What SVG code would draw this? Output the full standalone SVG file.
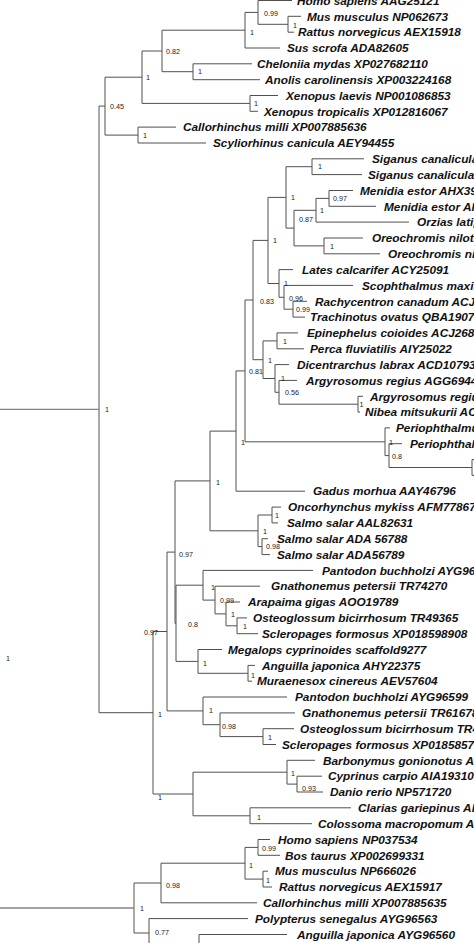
<svg xmlns="http://www.w3.org/2000/svg" width="474" height="943" viewBox="0 0 474 943">
<style>
.br{fill:none;stroke:#505050;stroke-width:1}
.th{fill:none;stroke:#858585;stroke-width:1.4}
.lf{font-family:"Liberation Sans",Arial,sans-serif;font-size:11.8px;font-weight:bold;font-style:italic;fill:#111}
.sp{font-family:"Liberation Sans",Arial,sans-serif;font-size:7.2px;fill:#222}
</style>
<rect width="474" height="943" fill="#fff"/>
<g id="connectors">
<path class="th" d="M0 409.4H99M0 908H134M99 106.1V712.7M153 631.5V794M134 883V933"/>
<path class="br" d="M99 106.1H105M99 712.7H153
M105 77.2V135.1M105 77.2H142M105 135.1H138
M142 51V103.4M142 51H162M142 103.4H250
M162 30.2V71.7M162 30.2H245M162 71.7H193
M245 12.4V48M245 12.4H258M245 48H280
M258 0.5V24.3M258 0.5H292M258 24.3H288
M288 16.3V32.2M288 16.3H301M288 32.2H294
M193 63.8V79.7M193 63.8H252M193 79.7H260
M250 95.5V111.3M250 95.5H278M250 111.3H258
M138 127.1V143M138 127.1H176M138 143H206
M153 631.5H167M153 794H193
M167 552.1V710.9M167 552.1H175M167 710.9H203
M175 480.9V623.3M175 480.9H210M175 623.3H176
M176 585.2V661.4M176 585.2H203M176 661.4H198
M210 431.1V530.8M210 431.1H236M210 530.8H258
M236 370.9V491.2M236 370.9H245M236 491.2H305
M245 300V441.8M245 300H253M245 441.8H385
M253 240.4V359.7M253 240.4H268M253 359.7H263
M268 197.4V283.5M268 197.4H286M268 283.5H279
M286 166.7V228.1M286 166.7H312M286 228.1H294
M312 158.8V174.6M312 158.8H364M312 174.6H362
M294 210.3V245.9M294 210.3H316M294 245.9H324
M316 198.4V222.1M316 198.4H329M316 222.1H409
M329 190.5V206.3M329 190.5H353M329 206.3H376
M324 238V253.8M324 238H363M324 253.8H380
M279 269.6V297.3M279 269.6H293M279 297.3H284
M284 285.4V309.2M284 285.4H353M284 309.2H293
M293 301.3V317.1M293 301.3H307M293 317.1H305
M263 340.9V378.5M263 340.9H277M263 378.5H275
M277 332.9V348.8M277 332.9H298M277 348.8H304
M275 364.6V392.3M275 364.6H289M275 392.3H279
M279 380.4V404.2M279 380.4H297M279 404.2H358
M358 396.3V412.1M358 396.3H363M358 412.1H360
M385 427.9V455.6M385 427.9H390M385 455.6H389
M389 443.7V467.5M389 443.7H402M389 467.5H472
M472 459.6V475.4M472 459.6H480M472 475.4H480
M258 515V546.6M258 515H272M258 546.6H262
M272 507.1V522.9M272 507.1H281M272 522.9H278
M262 538.7V554.6M262 538.7H268M262 554.6H270
M203 570.4V600.1M203 570.4H313M203 600.1H215
M215 586.2V613.9M215 586.2H260M215 613.9H226
M226 602V625.8M226 602H240M226 625.8H237
M237 617.9V633.7M237 617.9H247M237 633.7H258
M198 649.5V673.3M198 649.5H222M198 673.3H248
M248 665.4V681.2M248 665.4H255M248 681.2H252
M203 697V724.7M203 697H287M203 724.7H220
M220 712.9V736.6M220 712.9H295M220 736.6H263
M263 728.7V744.5M263 728.7H294M263 744.5H276
M193 772.2V815.8M193 772.2H287M193 815.8H250
M287 760.3V784.1M287 760.3H315M287 784.1H297
M297 776.2V792M297 776.2H322M297 792H323
M250 807.8V823.7M250 807.8H351M250 823.7H312
M134 883H161M134 933H149
M161 863.2V902.8M161 863.2H245M161 902.8H257
M245 847.4V879.1M245 847.4H258M245 879.1H263
M258 839.5V855.3M258 839.5H270M258 855.3H280
M263 871.2V887M263 871.2H268M263 887H272
M149 918.6V950M149 918.6H248M149 947.4H199
M199 934.5V960M199 934.5H287"/>
</g>
<g id="leaf-01"><text class="lf" x="297" y="4.7">Homo sapiens AAG25121</text></g>
<g id="leaf-02"><text class="lf" x="307" y="20.5">Mus musculus NP062673</text></g>
<g id="leaf-03"><text class="lf" x="298" y="36.4">Rattus norvegicus AEX15918</text></g>
<g id="leaf-04"><text class="lf" x="287" y="52.2">Sus scrofa ADA82605</text></g>
<g id="leaf-05"><text class="lf" x="257" y="68">Cheloniia mydas XP027682110</text></g>
<g id="leaf-06"><text class="lf" x="265" y="83.9">Anolis carolinensis XP003224168</text></g>
<g id="leaf-07"><text class="lf" x="286" y="99.7">Xenopus laevis NP001086853</text></g>
<g id="leaf-08"><text class="lf" x="264" y="115.5">Xenopus tropicalis XP012816067</text></g>
<g id="leaf-09"><text class="lf" x="183" y="131.3">Callorhinchus milli XP007885636</text></g>
<g id="leaf-10"><text class="lf" x="213" y="147.2">Scyliorhinus canicula AEY94455</text></g>
<g id="leaf-11"><text class="lf" x="372" y="163">Siganus canaliculat</text></g>
<g id="leaf-12"><text class="lf" x="368" y="178.8">Siganus canaliculat</text></g>
<g id="leaf-13"><text class="lf" x="360" y="194.7">Menidia estor AHX39</text></g>
<g id="leaf-14"><text class="lf" x="384" y="210.5">Menidia estor AH</text></g>
<g id="leaf-15"><text class="lf" x="417" y="226.3">Orzias latip</text></g>
<g id="leaf-16"><text class="lf" x="372" y="242.2">Oreochromis niloti</text></g>
<g id="leaf-17"><text class="lf" x="388" y="258">Oreochromis ni</text></g>
<g id="leaf-18"><text class="lf" x="302" y="273.8">Lates calcarifer ACY25091</text></g>
<g id="leaf-19"><text class="lf" x="362" y="289.6">Scophthalmus maximu</text></g>
<g id="leaf-20"><text class="lf" x="315" y="305.5">Rachycentron canadum ACJ1</text></g>
<g id="leaf-21"><text class="lf" x="310" y="321.3">Trachinotus ovatus QBA1907</text></g>
<g id="leaf-22"><text class="lf" x="307" y="337.1">Epinephelus coioides ACJ268</text></g>
<g id="leaf-23"><text class="lf" x="310" y="353">Perca fluviatilis AIY25022</text></g>
<g id="leaf-24"><text class="lf" x="297" y="368.8">Dicentrarchus labrax ACD10793</text></g>
<g id="leaf-25"><text class="lf" x="306" y="384.6">Argyrosomus regius AGG6944</text></g>
<g id="leaf-26"><text class="lf" x="370" y="400.5">Argyrosomus regiu</text></g>
<g id="leaf-27"><text class="lf" x="365" y="416.3">Nibea mitsukurii AC</text></g>
<g id="leaf-28"><text class="lf" x="396" y="432.1">Periophthalmus</text></g>
<g id="leaf-29"><text class="lf" x="410" y="447.9">Periophthalm</text></g>
<g id="leaf-32"><text class="lf" x="313" y="495.4">Gadus morhua AAY46796</text></g>
<g id="leaf-33"><text class="lf" x="288" y="511.3">Oncorhynchus mykiss AFM77867</text></g>
<g id="leaf-34"><text class="lf" x="287" y="527.1">Salmo salar AAL82631</text></g>
<g id="leaf-35"><text class="lf" x="277" y="542.9">Salmo salar ADA 56788</text></g>
<g id="leaf-36"><text class="lf" x="277" y="558.8">Salmo salar ADA56789</text></g>
<g id="leaf-37"><text class="lf" x="322" y="574.6">Pantodon buchholzi AYG965</text></g>
<g id="leaf-38"><text class="lf" x="271" y="590.4">Gnathonemus petersii TR74270</text></g>
<g id="leaf-39"><text class="lf" x="248" y="606.2">Arapaima gigas AOO19789</text></g>
<g id="leaf-40"><text class="lf" x="253" y="622.1">Osteoglossum bicirrhosum TR49365</text></g>
<g id="leaf-41"><text class="lf" x="262" y="637.9">Scleropages formosus XP018598908</text></g>
<g id="leaf-42"><text class="lf" x="228" y="653.7">Megalops cyprinoides scaffold9277</text></g>
<g id="leaf-43"><text class="lf" x="262" y="669.6">Anguilla japonica AHY22375</text></g>
<g id="leaf-44"><text class="lf" x="257" y="685.4">Muraenesox cinereus AEV57604</text></g>
<g id="leaf-45"><text class="lf" x="295" y="701.2">Pantodon buchholzi AYG96599</text></g>
<g id="leaf-46"><text class="lf" x="302" y="717.1">Gnathonemus petersii TR61678</text></g>
<g id="leaf-47"><text class="lf" x="300" y="732.9">Osteoglossum bicirrhosum TR4</text></g>
<g id="leaf-48"><text class="lf" x="282" y="748.7">Scleropages formosus XP01858573</text></g>
<g id="leaf-49"><text class="lf" x="323" y="764.5">Barbonymus gonionotus AI</text></g>
<g id="leaf-50"><text class="lf" x="328" y="780.4">Cyprinus carpio AIA19310</text></g>
<g id="leaf-51"><text class="lf" x="330" y="796.2">Danio rerio NP571720</text></g>
<g id="leaf-52"><text class="lf" x="358" y="812">Clarias gariepinus AI</text></g>
<g id="leaf-53"><text class="lf" x="318" y="827.9">Colossoma macropomum AI</text></g>
<g id="leaf-54"><text class="lf" x="278" y="843.7">Homo sapiens NP037534</text></g>
<g id="leaf-55"><text class="lf" x="285" y="859.5">Bos taurus XP002699331</text></g>
<g id="leaf-56"><text class="lf" x="275" y="875.4">Mus musculus NP666026</text></g>
<g id="leaf-57"><text class="lf" x="279" y="891.2">Rattus norvegicus AEX15917</text></g>
<g id="leaf-58"><text class="lf" x="263" y="907">Callorhinchus milli XP007885635</text></g>
<g id="leaf-59"><text class="lf" x="255" y="922.8">Polypterus senegalus AYG96563</text></g>
<g id="leaf-60"><text class="lf" x="297" y="938.7">Anguilla japonica AYG96560</text></g>
<g id="support">
<g id="n-root"><text class="sp" x="6" y="661.3">1</text></g>
<g id="n-99"><text class="sp" x="105" y="412">1</text></g>
<g id="n-045"><text class="sp" x="110" y="108.7">0.45</text></g>
<g id="n-tet"><text class="sp" x="146" y="79.8">1</text></g>
<g id="n-chond"><text class="sp" x="143" y="137.7">1</text></g>
<g id="n-082"><text class="sp" x="166" y="53.5">0.82</text></g>
<g id="n-245"><text class="sp" x="250" y="34.6">1</text></g>
<g id="n-099a"><text class="sp" x="264" y="15.5">0.99</text></g>
<g id="n-mr"><text class="sp" x="293" y="27.8">1</text></g>
<g id="n-cha"><text class="sp" x="198" y="73.8">1</text></g>
<g id="n-xen"><text class="sp" x="254" y="106">1</text></g>
<g id="n-sig"><text class="sp" x="318" y="169.3">1</text></g>
<g id="n-men"><text class="sp" x="333" y="201">0.97</text></g>
<g id="n-mo"><text class="sp" x="320" y="212.8">1</text></g>
<g id="n-286"><text class="sp" x="291" y="200">1</text></g>
<g id="n-087"><text class="sp" x="299" y="221.5">0.87</text></g>
<g id="n-268"><text class="sp" x="273" y="243">1</text></g>
<g id="n-oreo"><text class="sp" x="330" y="248.5">1</text></g>
<g id="n-lsrt"><text class="sp" x="284" y="286">1</text></g>
<g id="n-srt"><text class="sp" x="289" y="300.5">0.96</text></g>
<g id="n-rt"><text class="sp" x="296" y="312">0.99</text></g>
<g id="n-083"><text class="sp" x="260" y="303.5">0.83</text></g>
<g id="n-ep"><text class="sp" x="283" y="344">1</text></g>
<g id="n-263"><text class="sp" x="268" y="362.5">1</text></g>
<g id="n-081"><text class="sp" x="249" y="373.5">0.81</text></g>
<g id="n-da"><text class="sp" x="281" y="380.5">1</text></g>
<g id="n-056"><text class="sp" x="285" y="395">0.56</text></g>
<g id="n-an"><text class="sp" x="359.5" y="407">1</text></g>
<g id="n-g"><text class="sp" x="241" y="444.5">1</text></g>
<g id="n-pa"><text class="sp" x="389" y="444.5">1</text></g>
<g id="n-pb"><text class="sp" x="392" y="458.5">0.8</text></g>
<g id="n-210"><text class="sp" x="216" y="484.5">1</text></g>
<g id="n-ons"><text class="sp" x="275" y="517.5">1</text></g>
<g id="n-salm"><text class="sp" x="263" y="533.5">1</text></g>
<g id="n-ss"><text class="sp" x="266" y="549">0.98</text></g>
<g id="n-175"><text class="sp" x="179" y="556.5">0.97</text></g>
<g id="n-pgaos"><text class="sp" x="211" y="589.5">1</text></g>
<g id="n-gaos"><text class="sp" x="220" y="602.5">0.99</text></g>
<g id="n-aos"><text class="sp" x="231" y="616.5">1</text></g>
<g id="n-os"><text class="sp" x="243" y="629">1</text></g>
<g id="n-08"><text class="sp" x="188" y="627">0.8</text></g>
<g id="n-167"><text class="sp" x="144" y="634.5">0.97</text></g>
<g id="n-meg"><text class="sp" x="203" y="665.5">1</text></g>
<g id="n-am"><text class="sp" x="251" y="677.5">1</text></g>
<g id="n-153"><text class="sp" x="158" y="716.5">1</text></g>
<g id="n-p2"><text class="sp" x="209" y="712.5">1</text></g>
<g id="n-gos2"><text class="sp" x="222" y="728.5">0.98</text></g>
<g id="n-os2"><text class="sp" x="268" y="739.5">1</text></g>
<g id="n-bcd"><text class="sp" x="291" y="775.5">1</text></g>
<g id="n-cd"><text class="sp" x="302" y="790.5">0.93</text></g>
<g id="n-cyp"><text class="sp" x="158" y="799.5">1</text></g>
<g id="n-cc"><text class="sp" x="257" y="819.5">1</text></g>
<g id="n-hb"><text class="sp" x="262" y="851">0.99</text></g>
<g id="n-mam"><text class="sp" x="249" y="867.5">1</text></g>
<g id="n-mr2"><text class="sp" x="266" y="883">1</text></g>
<g id="n-098"><text class="sp" x="166" y="888">0.98</text></g>
<g id="n-134"><text class="sp" x="140" y="910.5">1</text></g>
<g id="n-077"><text class="sp" x="155" y="935">0.77</text></g>
<g id="n-199"><text class="sp" x="202" y="948">1</text></g>
</g>
</svg>
